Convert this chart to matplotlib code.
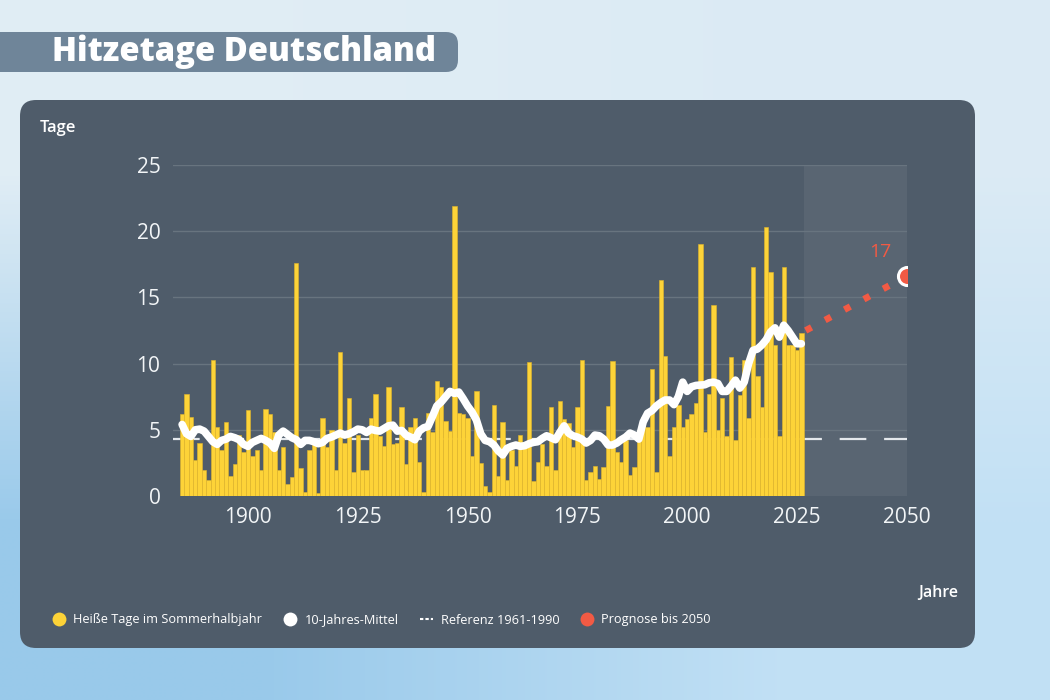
import numpy as np
import matplotlib.pyplot as plt
from matplotlib.patches import FancyBboxPatch
from matplotlib.lines import Line2D

plt.rcParams['font.family'] = ['Open Sans', 'DejaVu Sans']

# Heiße Tage pro Jahr
years = np.arange(1885, 2027)
hot_days = [
    6.2, 7.7, 6.0, 2.7, 4.0, 2.0, 1.2, 10.3, 5.2, 3.5,
    5.6, 1.5, 2.4, 4.6, 3.3, 6.5, 3.0, 3.5, 2.0, 6.6,
    6.2, 4.8, 2.0, 3.7, 0.9, 1.4, 17.6, 2.1, 0.3, 3.5,
    4.0, 0.2, 5.9, 3.7, 5.0, 2.0, 10.9, 4.0, 7.4, 1.8,
    4.6, 2.0, 2.0, 5.9, 7.7, 4.5, 3.8, 8.2, 3.9, 4.0,
    6.7, 2.4, 5.2, 5.9, 2.6, 0.3, 6.3, 4.8, 8.7, 8.2,
    5.7, 4.9, 21.9, 6.3, 6.2, 5.9, 3.0, 7.9, 2.5, 0.75,
    0.3, 6.9, 1.5, 5.6, 1.2, 3.5, 2.3, 4.6, 3.7, 10.1,
    1.1, 2.6, 3.9, 2.3, 6.75, 2.0, 7.2, 5.8, 5.5, 3.7,
    6.7, 10.3, 1.2, 1.8, 2.3, 1.3, 2.2, 6.8, 10.2, 3.3,
    2.6, 4.2, 1.6, 2.2, 5.0, 6.0, 5.2, 9.6, 1.8, 16.3,
    10.6, 3.0, 5.2, 6.9, 5.2, 5.8, 6.2, 7.0, 19.0, 4.8,
    7.7, 14.4, 5.0, 7.4, 4.5, 10.5, 4.2, 7.6, 10.3, 5.9,
    17.3, 9.1, 6.75, 20.3, 16.9, 11.4, 4.5, 17.3, 11.4, 11.4,
    11.0, 12.3,
]

# 10-Jahres-Mittel
mean_10y = [
    5.4, 4.7, 4.5, 5.0, 5.05, 4.9, 4.5, 4.1, 3.9, 4.2,
    4.3, 4.5, 4.4, 4.25, 3.9, 3.75, 4.05, 4.2, 4.35, 4.2,
    4.0, 3.6, 4.6, 4.9, 4.65, 4.4, 4.25, 3.9, 4.2, 4.2,
    4.1, 3.95, 4.05, 4.35, 4.45, 4.6, 4.75, 4.6, 4.7, 4.85,
    5.05, 5.0, 4.8, 5.05, 4.95, 4.9, 5.1, 5.3, 5.35, 4.9,
    4.95, 4.6, 4.45, 4.25, 4.9, 5.15, 5.25, 6.0, 6.8, 7.1,
    7.5, 7.9, 7.75, 7.85, 7.35, 6.8, 6.35, 5.75, 4.7, 4.2,
    4.1, 3.85, 3.4, 3.1, 3.6, 3.75, 3.85, 3.75, 3.8, 3.95,
    4.05, 4.1, 4.35, 4.55, 4.4, 4.25, 4.8, 5.3, 4.75, 4.55,
    4.45, 4.3, 4.0, 4.2, 4.6, 4.55, 4.3, 3.85, 3.85, 4.0,
    4.25, 4.45, 4.75, 4.6, 4.3, 5.6, 6.25, 6.45, 6.8, 7.05,
    7.25, 7.25, 6.9, 7.5, 8.6, 7.9, 8.25, 8.35, 8.38, 8.4,
    8.55, 8.6, 8.5, 7.9, 7.9, 8.3, 8.75, 8.15, 8.6, 10.0,
    11.0, 11.1, 11.4, 11.8, 12.4, 12.7, 12.0, 12.9, 12.5, 12.0,
    11.5, 11.5,
]

reference = 4.3  # Referenz 1961-1990
forecast_years = [2027, 2050]
forecast_days = [12.5, 16.6]
forecast_label = '17'
forecast_start = 2026.7

x_ticks = [1900, 1925, 1950, 1975, 2000, 2025, 2050]
y_ticks = [0, 5, 10, 15, 20, 25]

yellow = '#fdd338'
red = '#f25a44'
card = '#4f5c6a'

fig = plt.figure(figsize=(10.5, 7), dpi=100)

# Hintergrund (Himmel) + Karte + Titelbanner, in Pixelkoordinaten
bg = fig.add_axes([0, 0, 1, 1], zorder=-10)
sky = np.array([[[0.88, 0.93, 0.96], [0.86, 0.92, 0.96]],
                [[0.60, 0.79, 0.92], [0.76, 0.88, 0.96]]])
bg.imshow(sky, extent=(0, 1050, 0, 700), aspect='auto', interpolation='bilinear')
bg.set_xlim(0, 1050)
bg.set_ylim(0, 700)
bg.axis('off')

bg.add_patch(FancyBboxPatch((20, 52), 955, 548, boxstyle='round,pad=0,rounding_size=16',
                            fc=card, ec='none'))
bg.add_patch(FancyBboxPatch((-30, 628), 488, 40, boxstyle='round,pad=0,rounding_size=12',
                            fc='#6f8599', ec='none'))
bg.text(52, 648, 'Hitzetage Deutschland', fontsize=23.6, fontweight=800,
        color='white', va='center', ha='left')

# Diagramm
ax = fig.add_axes([172.9 / 1050, 204 / 700, 733.8 / 1050, 331 / 700])
ax.set_facecolor('none')

ax.axvspan(forecast_start, 2050, color='white', alpha=0.06, lw=0, zorder=0)
ax.axhline(reference, color='#e4e8ec', lw=1.6, dashes=(12, 8), zorder=1.5)
ax.bar(years, hot_days, width=1.0, color=yellow, edgecolor='#e3b62b', linewidth=0.4, zorder=2)
ax.plot(years, mean_10y, color='white', lw=5.5, solid_joinstyle='round',
        solid_capstyle='round', zorder=4)
ax.plot(forecast_years, forecast_days, color=red, lw=4.8, linestyle=(0, (1, 2.3)), zorder=5)
ax.plot(forecast_years[-1], forecast_days[-1], 'o', ms=13, mfc=red, mec='white', mew=2.2,
        zorder=6, clip_on=True)
ax.text(2044, 18.4, forecast_label, color=red, fontsize=14, ha='center', va='center')

ax.set_xlim(1882.9, 2050)
ax.set_ylim(0, 25)
ax.set_xticks(x_ticks)
ax.set_yticks(y_ticks)
ax.yaxis.grid(True, color='#68747f', lw=1)
ax.yaxis.get_gridlines()[0].set_visible(False)
ax.set_axisbelow(True)
ax.tick_params(length=0, labelsize=15, labelcolor='#f2f5f7')
for lab in ax.get_xticklabels() + ax.get_yticklabels():
    lab.set_fontweight('medium')
ax.tick_params(axis='y', pad=9)
ax.tick_params(axis='x', pad=8)
for s in ax.spines.values():
    s.set_visible(False)

fig.text(40 / 1050, 1 - 128 / 700, 'Tage', fontsize=12, fontweight='semibold',
         color='white', va='center')
fig.text(918 / 1050, 1 - 593 / 700, 'Jahre', fontsize=11.5, fontweight='semibold',
         color='white', va='center')

handles = [
    Line2D([], [], ls='none', marker='o', ms=10, mfc=yellow, mec='none'),
    Line2D([], [], ls='none', marker='o', ms=10, mfc='white', mec='none'),
    Line2D([], [], color='white', lw=1.5, dashes=(1.6, 1.0)),
    Line2D([], [], ls='none', marker='o', ms=10, mfc=red, mec='none'),
]
labels = ['Heiße Tage im Sommerhalbjahr', '10-Jahres-Mittel',
          'Referenz 1961-1990', 'Prognose bis 2050']
fig.legend(handles, labels, loc='center left', bbox_to_anchor=(53 / 1050, 1 - 620 / 700),
           ncol=4, frameon=False, fontsize=9.2, labelcolor='white', handlelength=1.0,
           handletextpad=0.6, columnspacing=1.7, borderpad=0, borderaxespad=0)

fig.savefig('out.png', dpi=100)
